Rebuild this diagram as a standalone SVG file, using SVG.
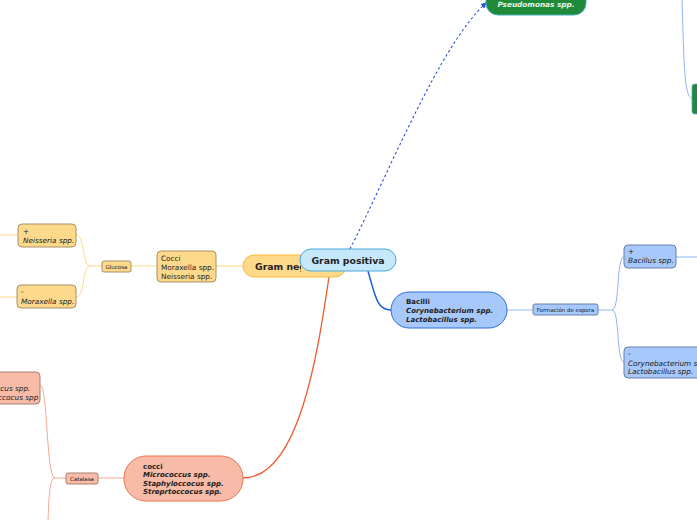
<svg xmlns="http://www.w3.org/2000/svg" width="697" height="520" viewBox="0 0 697 520">
<style>
text{font-family:"DejaVu Sans","Noto Sans",sans-serif;fill:#222}
.t7{font-size:7.3px}
.t7b{font-size:7px}
.t5{font-size:5.5px}
.b{font-weight:bold}
.i{font-style:italic}
.yel{fill:#fdd98b;stroke:#a89068;stroke-width:1}
.sal{fill:#f7bba8;stroke:#a88070;stroke-width:1}
.blu{fill:#a7c8fb;stroke:#6a7fa8;stroke-width:1}
</style>
<defs>
<marker id="arr" markerWidth="6" markerHeight="6" refX="5" refY="3" orient="auto" markerUnits="userSpaceOnUse">
<path d="M0,0 L6,3 L0,6 z" fill="#2a4fe0"/>
</marker>
<clipPath id="negclip"><rect x="243" y="255" width="58" height="22"/></clipPath>
</defs>
<g id="connectors" fill="none">
<path d="M350,249 C390,170 440,45 486,3" stroke="#2a4fe0" stroke-width="1.1" stroke-dasharray="2.5,2.5" marker-end="url(#arr)"/>
<path d="M682,0 C684,60 684,98 692,98" stroke="#8fb4f4" stroke-width="1"/>
<path d="M368,271 C376,300 378,310 391,310" stroke="#1a62d8" stroke-width="1.5"/>
<path d="M329,277 C318,350 300,478 243,478" stroke="#f05a2a" stroke-width="1.3"/>
<path d="M243,266 L216,266" stroke="#ffd98a" stroke-width="1.2"/>
<path d="M157,266 L131,266" stroke="#ffd98a" stroke-width="1"/>
<path d="M102,266 L90,266 C82,266 85,235 76,235 M90,266 C82,266 85,297 76,297" stroke="#ffd98a" stroke-width="1"/>
<path d="M0,235 L18,235 M0,297 L17,297" stroke="#ffd98a" stroke-width="1"/>
<path d="M124,478 L98,478" stroke="#f7a890" stroke-width="1"/>
<path d="M66,478 L55,478 C46,478 48,385 40,385 M55,478 C49,478 49,500 48,520" stroke="#f7a890" stroke-width="1"/>
<path d="M507,310 L533,310" stroke="#a7c8fb" stroke-width="1.2"/>
<path d="M598,310 L612,310 C620,310 616,257 624,257 M612,310 C620,310 616,362 624,362" stroke="#8fb4f4" stroke-width="1"/>
<path d="M676,257 L697,257" stroke="#8fb4f4" stroke-width="1"/>
</g>
<g id="green-top">
<rect x="486" y="-20" width="100" height="35" rx="12" fill="#1e8a3a" stroke="#48b0b8" stroke-width="1"/>
<text x="536" y="7" class="t7 b i" text-anchor="middle" style="fill:#e8f5e8">Pseudomonas spp.</text>
</g>
<g id="green-right">
<rect x="692" y="84" width="20" height="30" rx="3" fill="#1e8a3a" stroke="#48b0b8" stroke-width="0.8"/>
</g>
<g id="gram-negativa">
<rect x="243" y="255" width="103" height="22" rx="11" fill="#ffd98a" stroke="#f5bb3c" stroke-width="1"/>
<text x="255" y="270" style="font-size:9.3px" class="b" clip-path="url(#negclip)">Gram negativa</text>
</g>
<g id="gram-positiva">
<rect x="300" y="249" width="96" height="22" rx="11" fill="#c5e8fb" stroke="#4aa8d8" stroke-width="1"/>
<text x="348" y="263.5" style="font-size:9.3px" class="b" text-anchor="middle">Gram positiva</text>
</g>
<g id="cocci-neg">
<rect x="157" y="251" width="59" height="31" rx="4" class="yel"/>
<text x="161" y="261" class="t7">Cocci</text>
<text x="161" y="270" class="t7">Moraxella spp.</text>
<text x="161" y="279" class="t7">Neisseria spp.</text>
</g>
<g id="glucosa">
<rect x="102" y="261" width="29" height="11" rx="2" class="yel"/>
<text x="116.5" y="268.5" class="t5" text-anchor="middle">Glucosa</text>
</g>
<g id="neisseria">
<rect x="18" y="224" width="58" height="23" rx="4" class="yel"/>
<text x="23" y="234" class="t7">+</text>
<text x="23" y="243" class="t7 i">Neisseria spp.</text>
</g>
<g id="moraxella">
<rect x="17" y="285" width="59" height="23" rx="4" class="yel"/>
<text x="21" y="294" class="t7">-</text>
<text x="21" y="304" class="t7 i">Moraxella spp.</text>
</g>
<g id="cocci-pos">
<rect x="124" y="456" width="119" height="45" rx="22" fill="#f7bba8" stroke="#f07050" stroke-width="1"/>
<text x="143" y="469" class="t7b b">cocci</text>
<text x="143" y="477" class="t7b b i">Micrococcus spp.</text>
<text x="143" y="486" class="t7b b i">Staphyloccocus spp.</text>
<text x="143" y="494" class="t7b b i">Streprtoccocus spp.</text>
</g>
<g id="catalasa">
<rect x="66" y="473" width="32" height="11" rx="2" class="sal"/>
<text x="82" y="480.5" class="t5" text-anchor="middle">Catalasa</text>
</g>
<g id="catalasa-pos">
<rect x="-20" y="372" width="60" height="32" rx="4" class="sal"/>
<text x="-32" y="391" class="t7 i">Micrococcus spp.</text>
<text x="-34" y="400" class="t7 i">Staphyloccocus spp</text>
</g>
<g id="bacilli">
<rect x="391" y="292" width="116" height="36" rx="18" fill="#a7c8fb" stroke="#2f6fd8" stroke-width="1"/>
<text x="406" y="304" class="t7b b">Bacilli</text>
<text x="406" y="313" class="t7b b i">Corynebacterium spp.</text>
<text x="406" y="322" class="t7b b i">Lactobacillus spp.</text>
</g>
<g id="espora">
<rect x="533" y="304" width="65" height="11" rx="2" class="blu"/>
<text x="565.5" y="311.5" class="t5" text-anchor="middle">Formación de espora</text>
</g>
<g id="bacillus">
<rect x="624" y="245" width="52" height="23" rx="4" class="blu"/>
<text x="628" y="254" class="t7">+</text>
<text x="628" y="263" class="t7 i">Bacillus spp.</text>
</g>
<g id="coryne">
<rect x="624" y="347" width="90" height="31" rx="4" class="blu"/>
<text x="628" y="356" class="t7">-</text>
<text x="628" y="366" class="t7 i">Corynebacterium spp.</text>
<text x="628" y="374" class="t7 i">Lactobacillus spp.</text>
</g>
</svg>
